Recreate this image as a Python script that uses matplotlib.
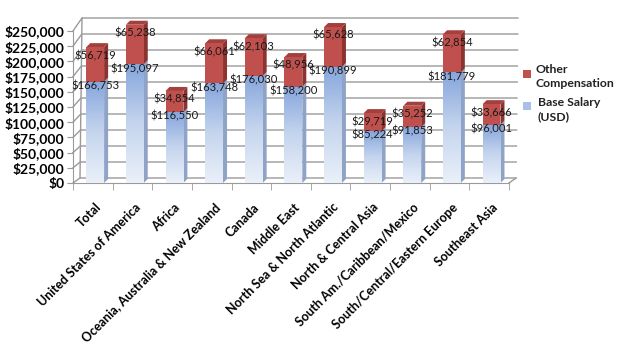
import numpy as np
import matplotlib.pyplot as plt
from matplotlib.patches import Polygon, Rectangle
from matplotlib.colors import LinearSegmentedColormap
from matplotlib.transforms import IdentityTransform
from matplotlib.ticker import FuncFormatter

# data
regions = ["Total", "United States of America", "Africa", "Oceania, Australia & New Zealand",
           "Canada", "Middle East", "North Sea & North Atlantic", "North & Central Asia",
           "South Am./Caribbean/Mexico", "South/Central/Eastern Europe", "Southeast Asia"]
base_salary = [166753, 195097, 116550, 163748, 176030, 158200, 190899, 85224, 91853, 181779, 96001]
other_comp = [56719, 65238, 34854, 66061, 62103, 48956, 65628, 29719, 35252, 62854, 33666]

W, H = 617, 348
fig = plt.figure(figsize=(W / 100, H / 100), dpi=100)
# $0 baseline at y=183px, $250,000 at y=31px, plot from x=73 to x=509
ax = fig.add_axes([73 / W, (H - 183) / H, 436 / W, 152 / H])
ax.set_xlim(-0.5, 10.5)
ax.set_ylim(0, 250000)

font = "Lato"
grid_c = "#9a9a9a"
red = "#c0504d"
red_side = "#8c3330"
red_top = "#a33f3c"
blue_side = "#8fa3c6"
blue_cmap = LinearSegmentedColormap.from_list("b", ["#eaf0f9", "#c5d5ee", "#86a6dc"])

for s in ["top", "right"]:
    ax.spines[s].set_visible(False)
ax.spines["left"].set_color(grid_c)
ax.spines["bottom"].set_color(grid_c)

yticks = np.arange(0, 250001, 25000)
ax.set_yticks(yticks)
ax.yaxis.set_major_formatter(FuncFormatter(lambda v, p: "${:,.0f}".format(v)))
ax.tick_params(axis="y", length=4, color=grid_c, pad=2)
for lab in ax.get_yticklabels():
    lab.set_fontfamily(font)
    lab.set_fontweight("bold")
    lab.set_fontsize(10)

ax.set_xticks(np.arange(len(regions)) + 0.05)
ax.set_xticklabels(regions, rotation=45, ha="right", va="top", rotation_mode="anchor",
                   fontfamily=font, fontweight="bold", fontsize=9)
ax.tick_params(axis="x", length=0, pad=13)
ax.set_xticks(np.arange(-0.5, 11, 1), minor=True)
ax.tick_params(axis="x", which="minor", length=5, color=grid_c)

T = ax.transData.transform
ident = IdentityTransform()


def poly(pts, color, z=2, lw=0):
    p = Polygon(pts, closed=True, facecolor=color, edgecolor=color, linewidth=lw,
                transform=ident, clip_on=False, zorder=z)
    ax.add_patch(p)


# back wall / left wall gridlines (depth grows a bit with height)
for v in yticks:
    f = v / 250000
    dx, dy = 7 + 2 * f, 5 + 8 * f
    x0, y0 = T((-0.5, v))
    x2, y2 = T((10.5, v))
    ax.plot([x0, x0 + dx, x2 + dx], [y0, y0 + dy, y2 + dy], color=grid_c, lw=1.0,
            transform=ident, clip_on=False, zorder=1)
# back wall left edge and floor right edge
xa, ya = T((-0.5, 0))
xb, yb = T((-0.5, 250000))
ax.plot([xa + 7, xb + 9], [ya + 5, yb + 13], color=grid_c, lw=1.0, transform=ident,
        clip_on=False, zorder=1)
xr, yr = T((10.5, 0))
ax.plot([xr, xr + 7], [yr, yr + 5], color=grid_c, lw=1.0, transform=ident,
        clip_on=False, zorder=1)

bw = 0.45
shift = 0.06
bdx, bdy = 4, 4
grad = np.linspace(0, 1, 100).reshape(-1, 1)
for i, (b, o) in enumerate(zip(base_salary, other_comp)):
    xc = i + shift
    x0, x1 = xc - bw / 2, xc + bw / 2
    # blue front with gradient
    ax.imshow(grad, extent=[x0, x1, 0, b], origin="lower", cmap=blue_cmap,
              aspect="auto", zorder=3, interpolation="bilinear")
    # red front
    ax.add_patch(Rectangle((x0, b), bw, o, facecolor=red, edgecolor="none",
                           zorder=3, clip_on=False))
    # side faces
    rx, ry0 = T((x1, 0))
    _, ryb = T((x1, b))
    _, ryt = T((x1, b + o))
    poly([(rx, ry0), (rx + bdx, ry0 + bdy), (rx + bdx, ryb + bdy), (rx, ryb)], blue_side)
    poly([(rx, ryb), (rx + bdx, ryb + bdy), (rx + bdx, ryt + bdy), (rx, ryt)], red_side)
    # top cap
    lx, _ = T((x0, 0))
    poly([(lx, ryt), (rx, ryt), (rx + bdx, ryt + bdy), (lx + bdx, ryt + bdy)], red_top)

    # value labels
    ax.annotate("${:,}".format(b), (xc, b), xytext=(0, -3), textcoords="offset points",
                ha="center", va="center", fontsize=8.1, fontfamily=font,
                color="#1a1a1a", zorder=6, annotation_clip=False)
    ax.annotate("${:,}".format(o), (xc, b + o), xytext=(0, -6), textcoords="offset points",
                ha="center", va="center", fontsize=8.1, fontfamily=font,
                color="#1a1a1a", zorder=6, annotation_clip=False)

ax.set_xlim(-0.5, 10.5)
ax.set_ylim(0, 250000)

# legend drawn by hand: red on top, blue below
fig.patches.append(Rectangle((523 / W, 1 - 78 / H), 8 / W, 8 / H, facecolor=red,
                             edgecolor="none", transform=fig.transFigure))
fig.text(535 / W, 1 - 64 / H, "Other\nCompensation", ha="left", va="top",
         fontfamily=font, fontweight="bold", fontsize=8.8, linespacing=1.3, color="#222222")
fig.patches.append(Rectangle((523 / W, 1 - 110 / H), 8 / W, 8 / H, facecolor="#a9c0e6",
                             edgecolor="none", transform=fig.transFigure))
fig.text(538 / W, 1 - 97 / H, "Base Salary\n(USD)", ha="left", va="top",
         fontfamily=font, fontweight="bold", fontsize=8.8, linespacing=1.3, color="#222222")

fig.savefig("out.png", dpi=100, facecolor="white")
